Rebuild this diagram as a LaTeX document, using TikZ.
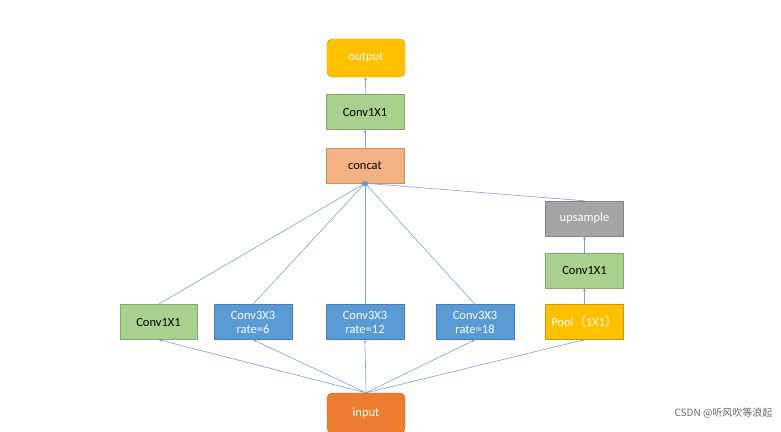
\documentclass[tikz,border=0pt]{standalone}
\usepackage{fontspec}
\setmainfont{Carlito}
\newfontfamily\cjk{Noto Sans CJK SC}
\usetikzlibrary{arrows.meta}
\definecolor{lblue}{HTML}{7BA3D1}
\definecolor{bblue}{HTML}{5B9BD5}
\definecolor{ggreen}{HTML}{A9D18E}
\definecolor{yorange}{HTML}{FFC000}
\definecolor{salmon}{HTML}{F4B183}
\definecolor{oorange}{HTML}{ED7D31}
\definecolor{ggray}{HTML}{A5A5A5}
\begin{document}
\begin{tikzpicture}[x=1pt,y=-1pt,
  box/.style={draw=#1!80!black,fill=#1,minimum width=78pt,minimum height=35pt,inner sep=1pt,font=\fontsize{12.5}{14}\selectfont,align=center},
  wbox/.style={box=#1,text=white},
  conn/.style={draw=lblue,line width=0.6pt,-{Latex[length=3pt,width=3pt]}}]
\useasboundingbox (0,0) rectangle (781,431);
\fill[white] (0,0) rectangle (781,431);
\node[wbox=yorange,rounded corners=5pt,minimum height=38pt] (out) at (366,58) {output};
\node[box=ggreen] (c1t) at (365,112) {Conv1X1};
\node[box=salmon] (cat) at (365,165.5) {concat};
\node[wbox=ggray] (up) at (584.5,218.5) {upsample};
\node[box=ggreen] (c1r) at (584.5,270.5) {Conv1X1};
\node[wbox=yorange] (pool) at (584.5,322) {Pool{\cjk（}1X1{\cjk）}};
\node[box=ggreen,minimum width=77pt] (c1l) at (158.5,322) {Conv1X1};
\node[wbox=bblue] (r6) at (253,322) {Conv3X3\\rate=6};
\node[wbox=bblue] (r12) at (365,322) {Conv3X3\\rate=12};
\node[wbox=bblue] (r18) at (475,322) {Conv3X3\\rate=18};
\node[wbox=oorange,rounded corners=5pt,minimum height=40pt] (in) at (366,413) {input};
\coordinate (cb) at (cat.south);
\coordinate (it) at (in.north);
\foreach \n in {c1l,r6,r12,r18,pool} \draw[conn] (it) -- (\n.south);
\foreach \n in {c1l,r6,r12,r18} \draw[conn] (\n.north) -- (cb);
\draw[conn] (up.north) -- (cb);
\fill[bblue] (cb) ellipse (3pt and 2pt);
\draw[conn] (pool) -- (c1r);
\draw[conn] (c1r) -- (up);
\draw[conn] (cat) -- (c1t);
\draw[conn] (c1t) -- (out);
\node[text=gray!80!black,font=\cjk\fontsize{10}{12}\selectfont,anchor=east] (wm) at (776,413) {CSDN @听风吹等浪起};
\end{tikzpicture}
\end{document}
